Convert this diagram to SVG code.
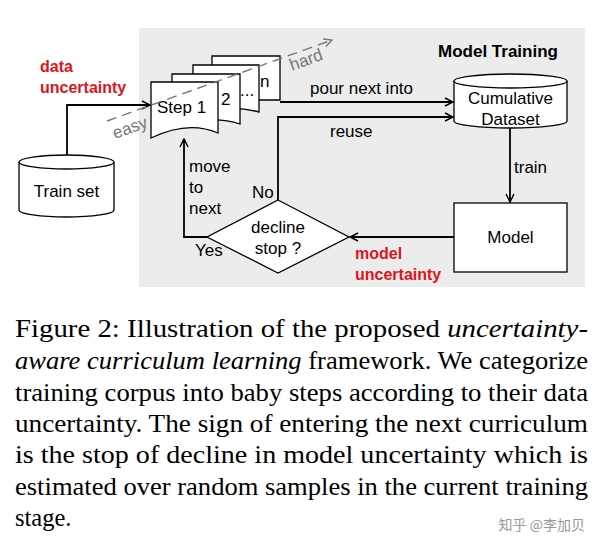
<svg xmlns="http://www.w3.org/2000/svg" width="600" height="546" viewBox="0 0 600 546">
<style>
.s{fill:#fff;stroke:#000;stroke-width:1.3}
.l{fill:none;stroke:#000;stroke-width:1.8}
.t{font-family:"Liberation Sans",Arial,sans-serif;font-size:17px;fill:#000}
.r{font-family:"Liberation Sans",Arial,sans-serif;font-size:16px;font-weight:bold;fill:#e0131b}
.c{font-family:"Liberation Serif","Times New Roman",serif;font-size:24.5px;fill:#000}
</style>
<defs>
<marker id="a" markerWidth="10" markerHeight="10" refX="9" refY="5" orient="auto" markerUnits="userSpaceOnUse"><path d="M1,1 L9,5 L1,9" fill="none" stroke="#000" stroke-width="1.4"/></marker>
<marker id="g" markerWidth="10" markerHeight="10" refX="9" refY="5" orient="auto" markerUnits="userSpaceOnUse"><path d="M1,1 L9,5 L1,9" fill="none" stroke="#777" stroke-width="1.4"/></marker>
</defs>
<rect width="600" height="546" fill="#fff"/>
<rect x="139" y="28" width="446" height="259" fill="#ececec"/>
<text x="438" y="57" class="t" font-weight="bold">Model Training</text>
<g id="trainset">
<path class="s" d="M19,162 A47.5,7 0 0 1 114,162 V210 A47.5,7 0 0 1 19,210 Z"/>
<path class="s" fill="none" d="M19,162 A47.5,7 0 0 0 114,162"/>
<text x="66.5" y="197" class="t" text-anchor="middle">Train set</text>
</g>
<g id="steps">
<path class="s" d="M212,56 H280 V100 H212 Z"/>
<text x="260" y="87" class="t">n</text>
<path class="s" d="M193,65 H259 V112 Q230,104 193,114 Z"/>
<text x="240" y="96" class="t">...</text>
<path class="s" d="M172,74 H240 V124 Q210,114 172,128 Z"/>
<text x="221" y="105" class="t">2</text>
<path class="s" d="M151,82 H218 V133 Q188,120 151,138 Z"/>
<text x="157" y="113" class="t">Step 1</text>
</g>
<g id="cumulative">
<path class="s" d="M454,81 A56.5,7 0 0 1 567,81 V121 A56.5,7 0 0 1 454,121 Z"/>
<path class="s" fill="none" d="M454,81 A56.5,7 0 0 0 567,81"/>
<text x="510.5" y="104" class="t" text-anchor="middle">Cumulative</text>
<text x="510.5" y="125" class="t" text-anchor="middle">Dataset</text>
</g>
<g id="model">
<rect class="s" x="454" y="203" width="113" height="69"/>
<text x="510.5" y="243" class="t" text-anchor="middle">Model</text>
</g>
<g id="decision">
<path class="s" d="M278,200 L349,237 L278,273 L207,237 Z"/>
<text x="278" y="233" class="t" text-anchor="middle">decline</text>
<text x="278" y="254" class="t" text-anchor="middle">stop ?</text>
</g>
<g id="connectors">
<path class="l" d="M67,155 V105 H150" marker-end="url(#a)"/>
<path d="M107,121 L332,40" fill="none" stroke="#777" stroke-width="1.4" stroke-dasharray="10,6" marker-end="url(#g)"/>
<path class="l" d="M280,102 H453" marker-end="url(#a)"/>
<path class="l" d="M278,200 V117 H453" marker-end="url(#a)"/>
<path class="l" d="M510,128 V202" marker-end="url(#a)"/>
<path class="l" d="M454,237 H350" marker-end="url(#a)"/>
<path class="l" d="M207,237 H184 V139" marker-end="url(#a)"/>
</g>
<text x="115" y="139" class="t" style="fill:#777" transform="rotate(-20 115 139)">easy</text>
<text x="292" y="71" class="t" style="fill:#777" transform="rotate(-20 292 71)">hard</text>
<text x="310" y="94" class="t">pour next into</text>
<text x="330" y="137" class="t">reuse</text>
<text x="514" y="173" class="t">train</text>
<text x="189" y="172" class="t">move</text>
<text x="189" y="193" class="t">to</text>
<text x="189" y="214" class="t">next</text>
<text x="252" y="198" class="t">No</text>
<text x="195" y="256" class="t">Yes</text>
<text x="40" y="72" class="r">data</text>
<text x="40" y="93" class="r">uncertainty</text>
<text x="355" y="259" class="r">model</text>
<text x="355" y="280" class="r">uncertainty</text>
<g class="c">
<text x="15" y="337" textLength="573" lengthAdjust="spacingAndGlyphs">Figure 2:  Illustration of the proposed <tspan font-style="italic">uncertainty-</tspan></text>
<text x="15" y="369" textLength="573" lengthAdjust="spacingAndGlyphs"><tspan font-style="italic">aware curriculum learning</tspan> framework. We categorize</text>
<text x="15" y="401" textLength="573" lengthAdjust="spacingAndGlyphs">training corpus into baby steps according to their data</text>
<text x="15" y="432" textLength="573" lengthAdjust="spacingAndGlyphs">uncertainty.  The sign of entering the next curriculum</text>
<text x="15" y="463" textLength="573" lengthAdjust="spacingAndGlyphs">is the stop of decline in model uncertainty which is</text>
<text x="15" y="495" textLength="573" lengthAdjust="spacingAndGlyphs">estimated over random samples in the current training</text>
<text x="15" y="526">stage.</text>
</g>
<text x="585" y="530" text-anchor="end" font-family="'Noto Sans CJK SC',sans-serif" font-size="14" fill="#999">知乎 @李加贝</text>
</svg>
